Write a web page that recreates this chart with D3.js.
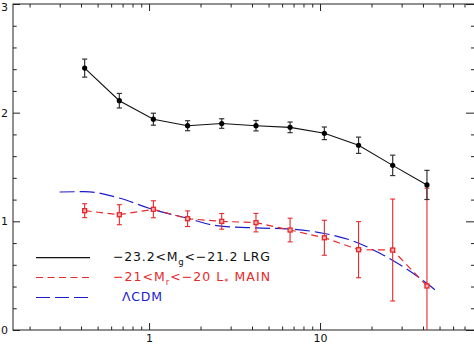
<!DOCTYPE html>
<html>
<head>
<meta charset="utf-8">
<script src="https://cdn.jsdelivr.net/npm/d3@7/dist/d3.min.js"></script>
<style>
  html, body { margin: 0; padding: 0; background: #fff; }
  svg { display: block; }
  text { font-family: "DejaVu Sans", "Liberation Sans", sans-serif; }
</style>
</head>
<body>
<script>
// ---------- data ----------
const rValues = [0.42, 0.67, 1.06, 1.68, 2.66, 4.22, 6.68, 10.6, 16.8, 26.6, 42.2];
const lrgWp   = [2.41, 2.11, 1.94, 1.88, 1.90, 1.88, 1.865, 1.81, 1.70, 1.515, 1.335];
const lrgErr  = [0.083, 0.067, 0.055, 0.046, 0.044, 0.048, 0.049, 0.058, 0.075, 0.094, 0.134];
const mainWp  = [1.098, 1.061, 1.111, 1.024, 1.000, 0.988, 0.920, 0.849, 0.739, 0.736, 0.405];
const mainErr = [0.064, 0.092, 0.078, 0.072, 0.072, 0.085, 0.109, 0.161, 0.258, 0.469, 0.90];
const lcdmR   = [0.30, 0.42, 0.677, 1.0, 1.68, 2.49, 4.22, 6.68, 9.73, 15.6, 22.4, 30.6, 42.1, 49.0];
const lcdmWp  = [1.270, 1.273, 1.212, 1.120, 1.028, 0.960, 0.939, 0.929, 0.899, 0.819, 0.706, 0.582, 0.430, 0.347];

const xMajorTicks = [1, 10];
const xTickLabels = ["1", "10"];
const xMinorTicks = [0.2, 0.3, 0.4, 0.5, 0.6, 0.7, 0.8, 0.9, 2, 3, 4, 5, 6, 7, 8, 9, 20, 30, 40, 50, 60, 70, 80];
const yMajorTicks = [0, 1, 2, 3];
const yTickLabels = ["0", "1", "2", "3"];
const yMinorTicks = [0.2, 0.4, 0.6, 0.8, 1.2, 1.4, 1.6, 1.8, 2.2, 2.4, 2.6, 2.8];

const legendLabels = [
  {parts: [["−23.2<M", 0], ["g", 1], ["<−21.2 LRG", 0]], color: "#111111"},
  {parts: [["−21<M", 0], ["r", 1], ["<−20 L", 0], ["*", 1], [" MAIN", 0]], color: "#e8282a"},
  {parts: [["ΛCDM", 0]], color: "#1c1ccc"}
];

// ---------- layout ----------
const W = 474, H = 345;
const L = 13, R = 475, T = 4, B = 330;

const svg = d3.select("body").append("svg").attr("width", W).attr("height", H);

const x = d3.scaleLog().domain([0.16, 80.6]).range([L, R]);
const y = d3.scaleLinear().domain([0, 3]).range([B, T]);

svg.append("defs").append("clipPath").attr("id", "clip")
  .append("rect").attr("x", L).attr("y", T).attr("width", R - L).attr("height", B - T);

// ---------- axes ----------
const axisColor = "#222";
function styleAxis(g) {
  g.select(".domain").remove();
  g.selectAll("line").attr("stroke", axisColor).attr("stroke-width", 1);
  g.selectAll("text").attr("fill", "#111").style("font-size", "11px")
    .style("font-family", '"DejaVu Sans", sans-serif');
}

// bottom
svg.append("g").attr("transform", `translate(0,${B})`)
  .call(d3.axisBottom(x).tickValues(xMajorTicks).tickSize(-7)
    .tickFormat((d, i) => xTickLabels[i]).tickPadding(0))
  .call(styleAxis)
  .call(g => g.selectAll("text").attr("y", 12.3).attr("dy", "0"));
svg.append("g").attr("transform", `translate(0,${B})`)
  .call(d3.axisBottom(x).tickValues(xMinorTicks).tickSize(-3.5).tickFormat(""))
  .call(styleAxis);
// top
svg.append("g").attr("transform", `translate(0,${T})`)
  .call(d3.axisTop(x).tickValues(xMajorTicks).tickSize(-7).tickFormat(""))
  .call(styleAxis);
svg.append("g").attr("transform", `translate(0,${T})`)
  .call(d3.axisTop(x).tickValues(xMinorTicks).tickSize(-3.5).tickFormat(""))
  .call(styleAxis);
// left
svg.append("g").attr("transform", `translate(${L},0)`)
  .call(d3.axisLeft(y).tickValues(yMajorTicks).tickSize(-7)
    .tickFormat((d, i) => yTickLabels[i]).tickPadding(5))
  .call(styleAxis)
  .call(g => g.selectAll("text").filter(d => d === 3).attr("dy", "0").attr("y", 6.8));
svg.append("g").attr("transform", `translate(${L},0)`)
  .call(d3.axisLeft(y).tickValues(yMinorTicks).tickSize(-3.7).tickFormat(""))
  .call(styleAxis);
// right
svg.append("g").attr("transform", `translate(${R},0)`)
  .call(d3.axisRight(y).tickValues(yMajorTicks).tickSize(-9).tickFormat(""))
  .call(styleAxis);
svg.append("g").attr("transform", `translate(${R},0)`)
  .call(d3.axisRight(y).tickValues(yMinorTicks).tickSize(-4).tickFormat(""))
  .call(styleAxis);

// frame
svg.append("rect").attr("x", L).attr("y", T).attr("width", R - L).attr("height", B - T)
  .attr("fill", "none").attr("stroke", axisColor).attr("stroke-width", 1);

// ---------- data marks ----------
const plot = svg.append("g").attr("clip-path", "url(#clip)");

const lrg = rValues.map((r, i) => ({r, v: lrgWp[i], e: lrgErr[i]}));
const main = rValues.map((r, i) => ({r, v: mainWp[i], e: mainErr[i]}));
const lcdm = lcdmR.map((r, i) => ({r, v: lcdmWp[i]}));

// LCDM curve
const blue = "#1c1ccc";
plot.append("path").datum(lcdm)
  .attr("d", d3.line().x(d => x(d.r)).y(d => y(d.v)).curve(d3.curveMonotoneX))
  .attr("fill", "none").attr("stroke", blue).attr("stroke-width", 1.2)
  .attr("stroke-dasharray", "15,5");

// MAIN (red)
const red = "#e8282a";
function errorBars(data, color, cap, sw) {
  const g = plot.append("g").attr("stroke", color).attr("stroke-width", sw);
  g.selectAll(".ev").data(data).join("line")
    .attr("x1", d => x(d.r)).attr("x2", d => x(d.r))
    .attr("y1", d => y(d.v - d.e)).attr("y2", d => y(d.v + d.e));
  g.selectAll(".ct").data(data).join("line")
    .attr("x1", d => x(d.r) - cap).attr("x2", d => x(d.r) + cap)
    .attr("y1", d => y(d.v + d.e)).attr("y2", d => y(d.v + d.e));
  g.selectAll(".cb").data(data).join("line")
    .attr("x1", d => x(d.r) - cap).attr("x2", d => x(d.r) + cap)
    .attr("y1", d => y(d.v - d.e)).attr("y2", d => y(d.v - d.e));
}

plot.append("path").datum(main)
  .attr("d", d3.line().x(d => x(d.r)).y(d => y(d.v)))
  .attr("fill", "none").attr("stroke", red).attr("stroke-width", 1.2)
  .attr("stroke-dasharray", "7,4.5");
errorBars(main, red, 2.5, 1.1);
plot.selectAll(".mpt").data(main).join("rect")
  .attr("x", d => x(d.r) - 2).attr("y", d => y(d.v) - 2)
  .attr("width", 4).attr("height", 4)
  .attr("fill", "#f7b0b0").attr("stroke", red).attr("stroke-width", 1.3);

// LRG (black)
plot.append("path").datum(lrg)
  .attr("d", d3.line().x(d => x(d.r)).y(d => y(d.v)))
  .attr("fill", "none").attr("stroke", "#111").attr("stroke-width", 1.1);
errorBars(lrg, "#333", 2.6, 1.2);
plot.selectAll(".lpt").data(lrg).join("circle")
  .attr("cx", d => x(d.r)).attr("cy", d => y(d.v)).attr("r", 2.6)
  .attr("fill", "#000");

// ---------- legend ----------
const legRows = [257.7, 277.5, 297.5];
const legBase = [261.3, 281, 301];
const legTextX = [113, 113, 122];
const legTextW = [157, 157, 40];
const legDash = [null, "7,4.5", "14,5"];
legendLabels.forEach((lab, i) => {
  svg.append("line").attr("x1", 36).attr("x2", 90)
    .attr("y1", legRows[i]).attr("y2", legRows[i])
    .attr("stroke", lab.color).attr("stroke-width", 1.2)
    .attr("stroke-dasharray", legDash[i]);
  const t = svg.append("text").attr("x", legTextX[i]).attr("y", legBase[i])
    .attr("fill", lab.color).style("font-size", "12.5px")
    .attr("textLength", legTextW[i]).attr("lengthAdjust", "spacing");
  lab.parts.forEach(([s, sub], k) => {
    const ts = t.append("tspan").text(s);
    if (sub) ts.style("font-size", "8.5px").attr("dy", 3.5);
    else if (k > 0 && lab.parts[k - 1][1] === 1) ts.attr("dy", -3.5);
  });
});
</script>
</body>
</html>
